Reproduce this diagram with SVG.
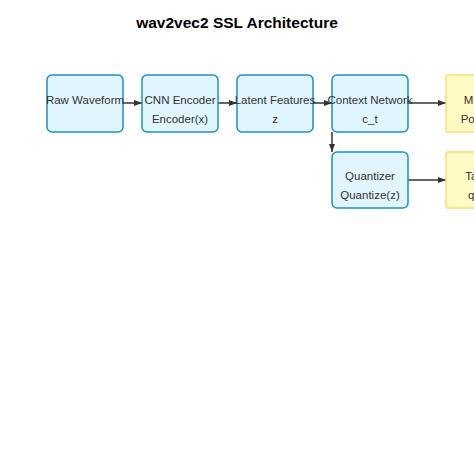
<svg xmlns="http://www.w3.org/2000/svg" width="474" height="474" viewBox="0 0 474 474">
<defs>
<marker id="ah" markerWidth="8" markerHeight="6" refX="8" refY="3" orient="auto" markerUnits="userSpaceOnUse"><path d="M0,0 L8,3 L0,6 z" fill="#333"/></marker>
<style>
.b{fill:#e1f5fe;stroke:#1e90c8;stroke-width:1.5}
.y{fill:#fff9c4;stroke:#f5df7a;stroke-width:1.5}
.t{font-family:"Liberation Sans",Arial,sans-serif;font-size:11.5px;fill:#333;text-anchor:middle}
.c{stroke:#333;stroke-width:1.5;fill:none;marker-end:url(#ah)}
</style>
</defs>
<rect width="474" height="474" fill="#fff"/>
<text x="237" y="28" style="font-family:'Liberation Sans',Arial,sans-serif;font-size:15.5px;font-weight:bold;text-anchor:middle;fill:#000">wav2vec2 SSL Architecture</text>
<g id="connectors">
<path class="c" d="M123,103 L142,103"/>
<path class="c" d="M218,103 L237,103"/>
<path class="c" d="M313,103 L332,103"/>
<path class="c" d="M408,103 L446,103"/>
<path class="c" d="M332,132 L332,152"/>
<path class="c" d="M408,180 L446,180"/>
</g>
<g id="raw"><rect class="b" x="47" y="75" width="76" height="57" rx="5"/><text class="t" x="85" y="104">Raw Waveform</text></g>
<g id="cnn"><rect class="b" x="142" y="75" width="76" height="57" rx="5"/><text class="t" x="180" y="104">CNN Encoder</text><text class="t" x="180" y="123">Encoder(x)</text></g>
<g id="latent"><rect class="b" x="237" y="75" width="76" height="57" rx="5"/><text class="t" x="275" y="104">Latent Features</text><text class="t" x="275" y="123">z</text></g>
<g id="context"><rect class="b" x="332" y="75" width="76" height="57" rx="5"/><text class="t" x="370" y="104">Context Network</text><text class="t" x="370" y="123">c_t</text></g>
<g id="masked"><rect class="y" x="446" y="75" width="76" height="57" rx="2"/><text class="t" x="484" y="104">Masked</text><text class="t" x="484" y="123">Positions</text></g>
<g id="quantizer"><rect class="b" x="332" y="152" width="76" height="56" rx="5"/><text class="t" x="370" y="180">Quantizer</text><text class="t" x="370" y="199">Quantize(z)</text></g>
<g id="targets"><rect class="y" x="446" y="152" width="76" height="56" rx="2"/><text class="t" x="484" y="180">Targets</text><text class="t" x="476" y="199">q_t</text></g>
</svg>
